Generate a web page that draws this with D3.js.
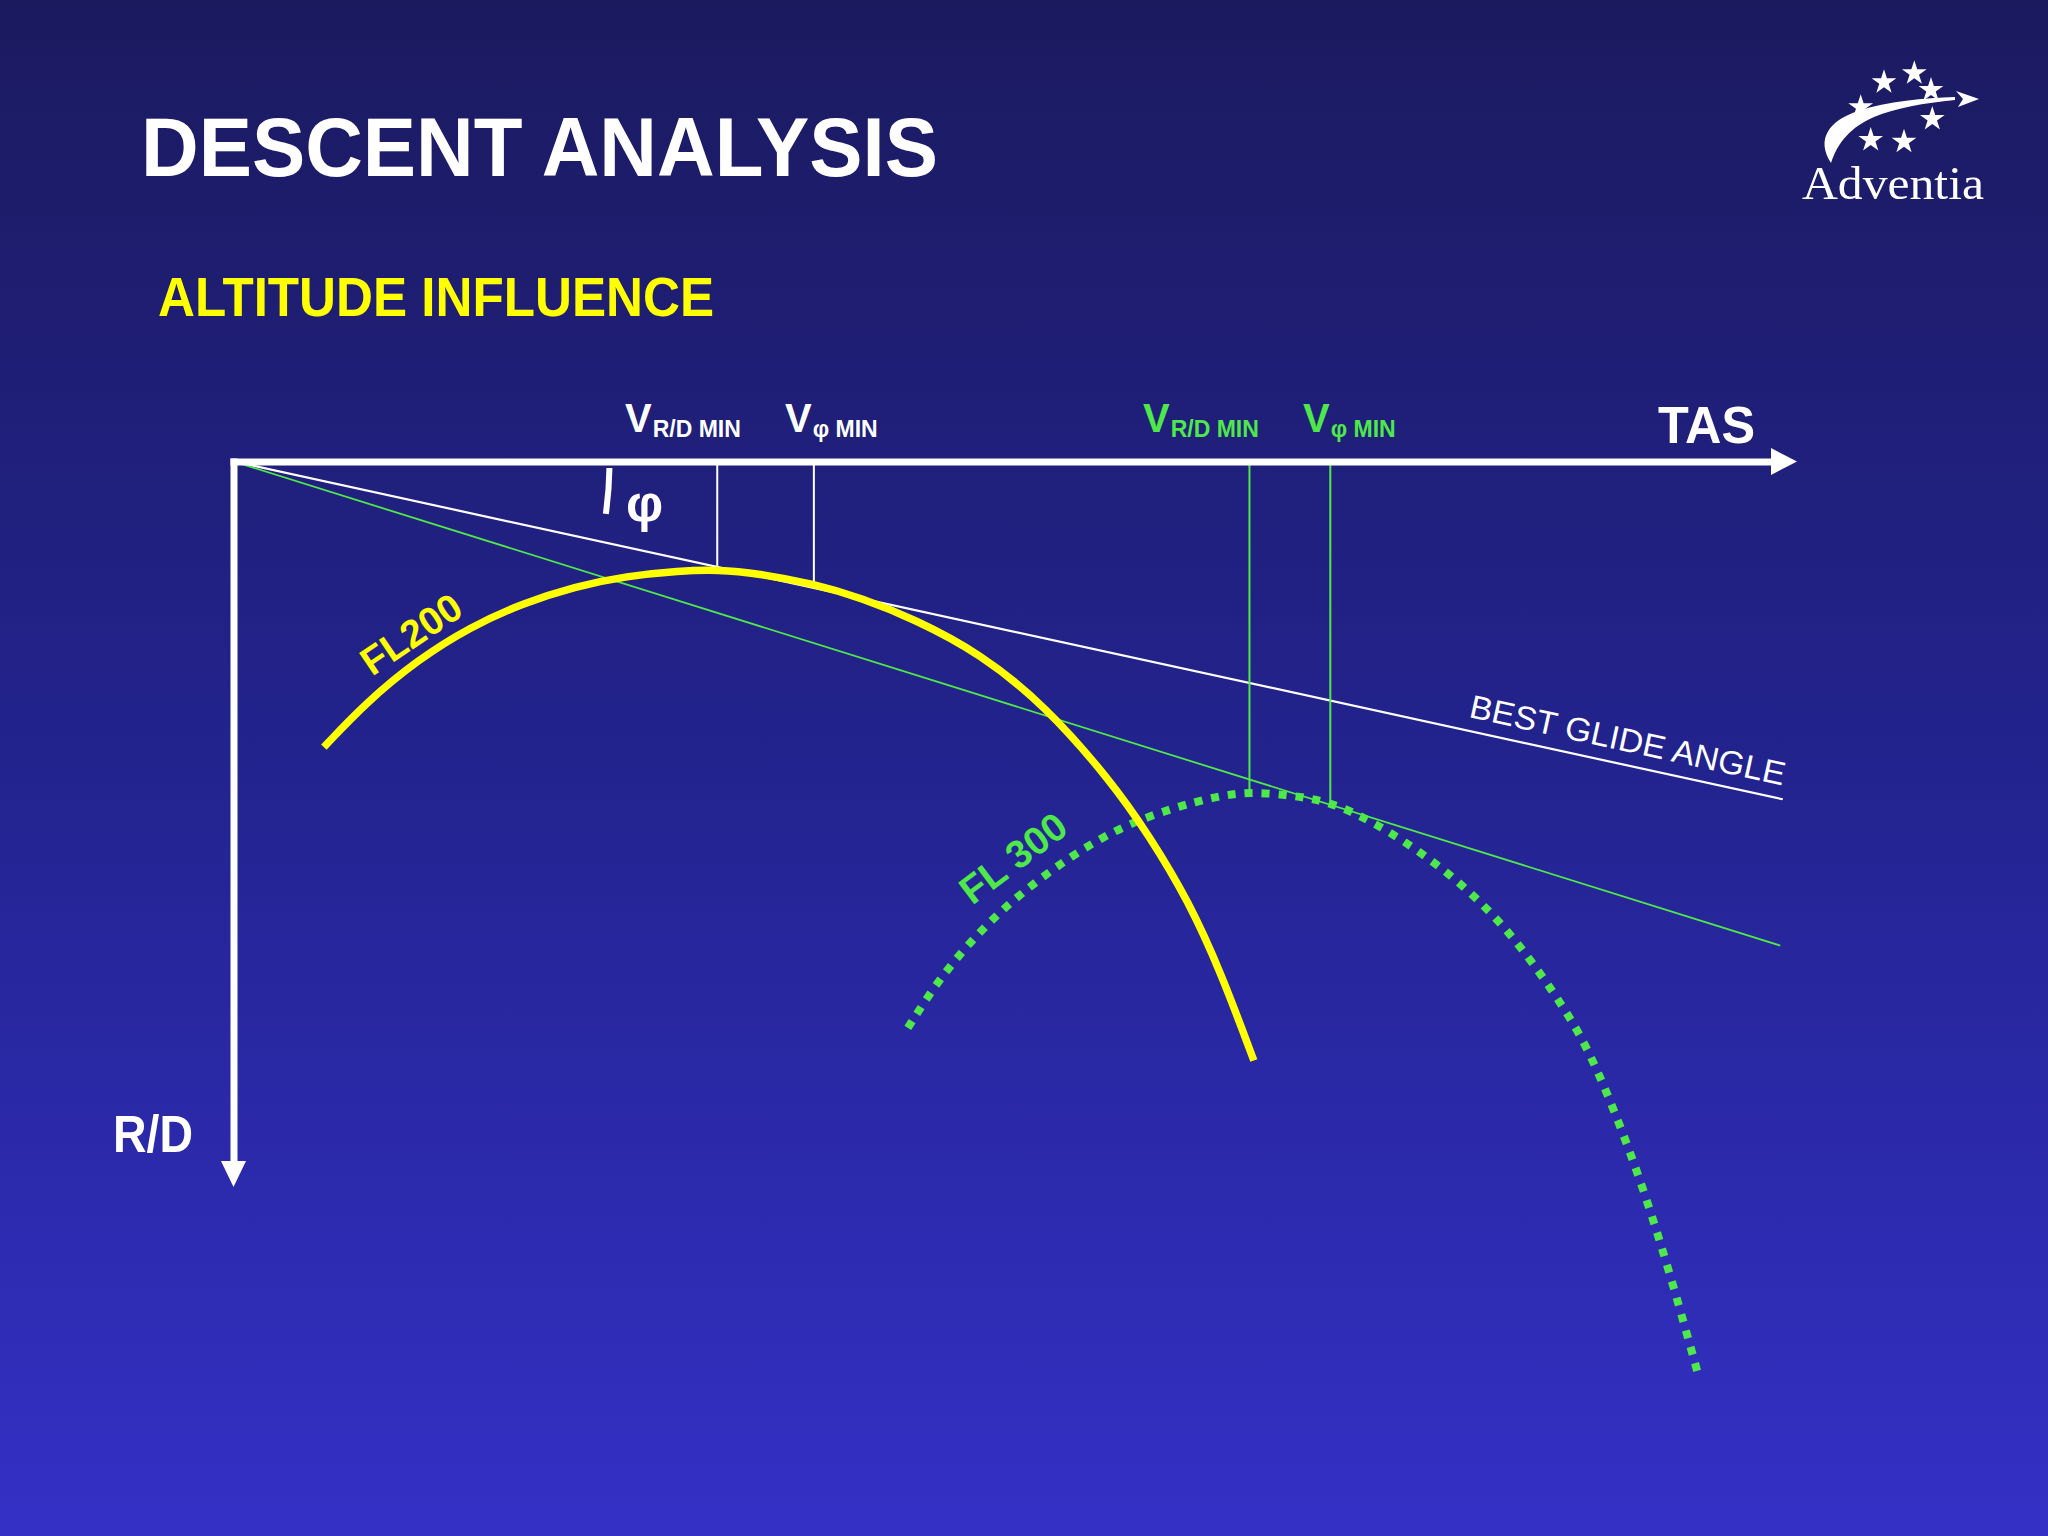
<!DOCTYPE html>
<html><head><meta charset="utf-8">
<script src="https://cdn.jsdelivr.net/npm/d3@7"></script>
<style>html,body{margin:0;padding:0;background:#1b1a62;overflow:hidden}svg{display:block}</style>
</head><body>
<script>
// ---------- DATA (TAS / R/D in arbitrary chart units 0..100) ----------
const fl200TAS = [5.78, 8.46, 11.80, 15.14, 18.48, 21.82, 25.16, 28.51, 31.01, 33.52, 37.11, 40.20, 43.54, 47.72, 51.90, 56.07, 58.58, 61.09, 63.17, 65.26];
const fl200RD  = [39.37, 33.25, 27.30, 22.80, 19.56, 17.22, 15.78, 15.06, 14.90, 15.42, 16.86, 18.84, 21.72, 26.40, 33.61, 43.90, 51.61, 60.61, 70.51, 82.57];
const fl300TAS = [43.13, 45.21, 47.72, 50.23, 53.57, 56.91, 60.25, 62.76, 65.01, 67.77, 70.11, 72.78, 76.96, 81.14, 84.48, 86.57, 88.65, 90.32, 92.00, 93.67];
const fl300RD  = [78.07, 71.05, 64.75, 59.71, 54.31, 50.17, 47.65, 46.21, 45.50, 46.03, 46.93, 49.45, 55.21, 63.31, 73.21, 80.41, 91.22, 101.12, 112.82, 125.78];
const curveLabels = ["FL200", "FL 300"];
// tangent lines from origin: end points
const tangentSeries = ["FL200", "FL300"];
const tangentEndTAS = [99.09, 98.93];
const tangentEndRD  = [46.56, 66.73];
const tangentLabel = "BEST GLIDE ANGLE";
// characteristic speeds
const speedSeries = ["FL200", "FL200", "FL300", "FL300"];
const speedTAS = [30.94, 37.12, 64.98, 70.15];
const speedRD  = [15.2, 17.0, 46.0, 47.0];
const speedSub = ["R/D MIN", "\u03C6 MIN", "R/D MIN", "\u03C6 MIN"];
const axisLabels = ["TAS", "R/D"];
const titleText = "DESCENT ANALYSIS";
const subtitleText = "ALTITUDE INFLUENCE";
const logoText = "Adventia";

// ---------- LAYOUT / STYLE ----------
const W = 2048, H = 1536;
const colors = {FL200: "#ffff00", FL300: "#4fe84a", white: "#ffffff"};
const lineColor = {FL200: "#ffffff", FL300: "#4fe84a"};
const speedLineColor = {FL200: "#ffffff", FL300: "#4fe84a"};
const speedLabelX = [625, 785, 1143, 1303]; // left of "V"

const svg = d3.select("body").append("svg").attr("width", W).attr("height", H);
const defs = svg.append("defs");
const grad = defs.append("linearGradient").attr("id", "bg").attr("x1", 0).attr("y1", 0).attr("x2", 0).attr("y2", 1);
grad.append("stop").attr("offset", "0%").attr("stop-color", "#1b1a5f");
grad.append("stop").attr("offset", "50%").attr("stop-color", "#23238f");
grad.append("stop").attr("offset", "100%").attr("stop-color", "#3430c6");
svg.append("rect").attr("width", W).attr("height", H).attr("fill", "url(#bg)");

const x = d3.scaleLinear().domain([0, 100]).range([233.5, 1797]);
const y = d3.scaleLinear().domain([0, 100]).range([461.5, 1187]);

// ---------- Title ----------
svg.append("text").attr("x", 141).attr("y", 176).text(titleText)
  .attr("font-family", "Liberation Sans, Arial, sans-serif").attr("font-weight", "bold")
  .attr("font-size", 84).attr("fill", "#ffffff")
  .attr("textLength", 797).attr("lengthAdjust", "spacingAndGlyphs");
svg.append("text").attr("x", 158).attr("y", 316).text(subtitleText)
  .attr("font-family", "Liberation Sans, Arial, sans-serif").attr("font-weight", "bold")
  .attr("font-size", 56).attr("fill", "#ffff00")
  .attr("textLength", 556).attr("lengthAdjust", "spacingAndGlyphs");

// ---------- Logo ----------
const logo = svg.append("g");
const starPos = [[1860.7,107.3],[1884,82.3],[1914.3,73.3],[1931,90],[1932.3,119],[1904,141.7],[1870.7,140]];
const star = d3.symbol().type(d3.symbolStar).size(13*13/0.8908)();
logo.selectAll("path.star").data(starPos).join("path").attr("class","star")
  .attr("d", star).attr("transform", d => `translate(${d[0]},${d[1]})`).attr("fill", "#ffffff");
logo.append("path").attr("fill", "#ffffff")
  .attr("d", "M1831,163 C1816,140 1828,121 1858,111 C1888,101 1924,98 1955,97 L1955,100 C1924,103 1896,108 1874,117 C1851,127 1838,142 1831,163 Z");
logo.append("path").attr("fill", "#ffffff").attr("d", "M1956,91 L1979,99 L1958,107 L1963,99 Z");
logo.append("text").attr("x", 1802).attr("y", 199).text(logoText)
  .attr("font-family", "Liberation Serif, Times New Roman, serif").attr("font-size", 47)
  .attr("fill", "#ffffff").attr("textLength", 182).attr("lengthAdjust", "spacingAndGlyphs");

// ---------- Tangent lines ----------
svg.selectAll("line.tangent").data(tangentSeries).join("line").attr("class", "tangent")
  .attr("x1", x(0)).attr("y1", y(0))
  .attr("x2", (d, i) => x(tangentEndTAS[i])).attr("y2", (d, i) => y(tangentEndRD[i]))
  .attr("stroke", d => lineColor[d]).attr("stroke-width", d => d === "FL200" ? 2.2 : 1.8);

// ---------- Speed verticals ----------
svg.selectAll("line.speed").data(speedSeries).join("line").attr("class", "speed")
  .attr("x1", (d, i) => x(speedTAS[i])).attr("x2", (d, i) => x(speedTAS[i]))
  .attr("y1", y(0)).attr("y2", (d, i) => y(speedRD[i]))
  .attr("stroke", d => speedLineColor[d]).attr("stroke-width", 2);

// speed labels
const sl = svg.selectAll("text.speedlab").data(speedSeries).join("text").attr("class", "speedlab")
  .attr("font-family", "Liberation Sans, Arial, sans-serif").attr("font-weight", "bold")
  .attr("fill", d => d === "FL200" ? "#ffffff" : colors.FL300);
sl.append("tspan").attr("x", (d, i) => speedLabelX[i]).attr("y", 431.5).attr("font-size", 40).text("V");
sl.append("tspan").attr("dx", 1).attr("y", 437).attr("font-size", 23).text((d, i) => speedSub[i]);

// ---------- Curves ----------
const line = d3.line().x(d => x(d[0])).y(d => y(d[1])).curve(d3.curveBasis);
const fl300 = fl300TAS.map((v, i) => [v, fl300RD[i]]);
const fl200 = fl200TAS.map((v, i) => [v, fl200RD[i]]);
svg.append("path").datum(fl300).attr("d", line).attr("fill", "none")
  .attr("stroke", colors.FL300).attr("stroke-width", 8).attr("stroke-dasharray", "8 9");
svg.append("path").datum(fl200).attr("d", line).attr("fill", "none")
  .attr("stroke", colors.FL200).attr("stroke-width", 7.5);

// curve labels
svg.append("text").attr("transform", "translate(411,634) rotate(-34)")
  .attr("text-anchor", "middle").attr("dy", "0.35em").text(curveLabels[0])
  .attr("font-family", "Liberation Sans, Arial, sans-serif").attr("font-weight", "bold")
  .attr("font-size", 39).attr("fill", colors.FL200);
svg.append("text").attr("transform", "translate(1013,858) rotate(-37)")
  .attr("text-anchor", "middle").attr("dy", "0.35em").text(curveLabels[1])
  .attr("font-family", "Liberation Sans, Arial, sans-serif").attr("font-weight", "bold")
  .attr("font-size", 39).attr("fill", colors.FL300);

// best glide angle label
const ang = Math.atan2(y(tangentEndRD[0]) - y(0), x(tangentEndTAS[0]) - x(0)) * 180 / Math.PI;
svg.append("text").attr("transform", `translate(1468,717) rotate(${ang})`).text(tangentLabel)
  .attr("font-family", "Liberation Sans, Arial, sans-serif").attr("font-size", 33)
  .attr("fill", "#ffffff").attr("textLength", 322).attr("lengthAdjust", "spacingAndGlyphs");

// angle mark
const arc = d3.arc().innerRadius(373).outerRadius(379)
  .startAngle(Math.PI / 2 + 1 * Math.PI / 180).endAngle(Math.PI / 2 + 8 * Math.PI / 180);
svg.append("path").attr("d", arc()).attr("transform", `translate(${x(0)},${y(0)})`).attr("fill", "#ffffff");
svg.append("text").attr("x", 626).attr("y", 521).text("\u03C6")
  .attr("font-family", "Liberation Sans, Arial, sans-serif").attr("font-weight", "bold")
  .attr("font-size", 52).attr("fill", "#ffffff");

// ---------- Axes ----------
const xAxisScale = d3.scaleLinear().domain([0, x.invert(1772)]).range([x(0) - 3.5, 1772]);
svg.append("g").attr("transform", `translate(0,${y(0)})`)
  .call(d3.axisBottom(xAxisScale).tickValues([]).tickSizeOuter(0))
  .call(g => g.select(".domain").attr("stroke", "#fff").attr("stroke-width", 7));
const yAxisScale = d3.scaleLinear().domain([0, y.invert(1162)]).range([y(0) - 3.5, 1162]);
svg.append("g").attr("transform", `translate(${x(0)},0)`)
  .call(d3.axisLeft(yAxisScale).tickValues([]).tickSizeOuter(0))
  .call(g => g.select(".domain").attr("stroke", "#fff").attr("stroke-width", 7));
svg.append("path").attr("fill", "#fff")
  .attr("d", `M1771,${y(0) - 13.5} L${x(100)},${y(0)} L1771,${y(0) + 13.5} Z`);
svg.append("path").attr("fill", "#fff")
  .attr("d", `M${x(0) - 12.5},1161 L${x(0)},${y(100)} L${x(0) + 12.5},1161 Z`);

svg.append("text").attr("x", 1658).attr("y", 443).text(axisLabels[0])
  .attr("font-family", "Liberation Sans, Arial, sans-serif").attr("font-weight", "bold")
  .attr("font-size", 52).attr("fill", "#fff").attr("textLength", 97).attr("lengthAdjust", "spacingAndGlyphs");
svg.append("text").attr("x", 113).attr("y", 1152).text(axisLabels[1])
  .attr("font-family", "Liberation Sans, Arial, sans-serif").attr("font-weight", "bold")
  .attr("font-size", 51).attr("fill", "#fff").attr("textLength", 80).attr("lengthAdjust", "spacingAndGlyphs");
</script>
</body></html>
